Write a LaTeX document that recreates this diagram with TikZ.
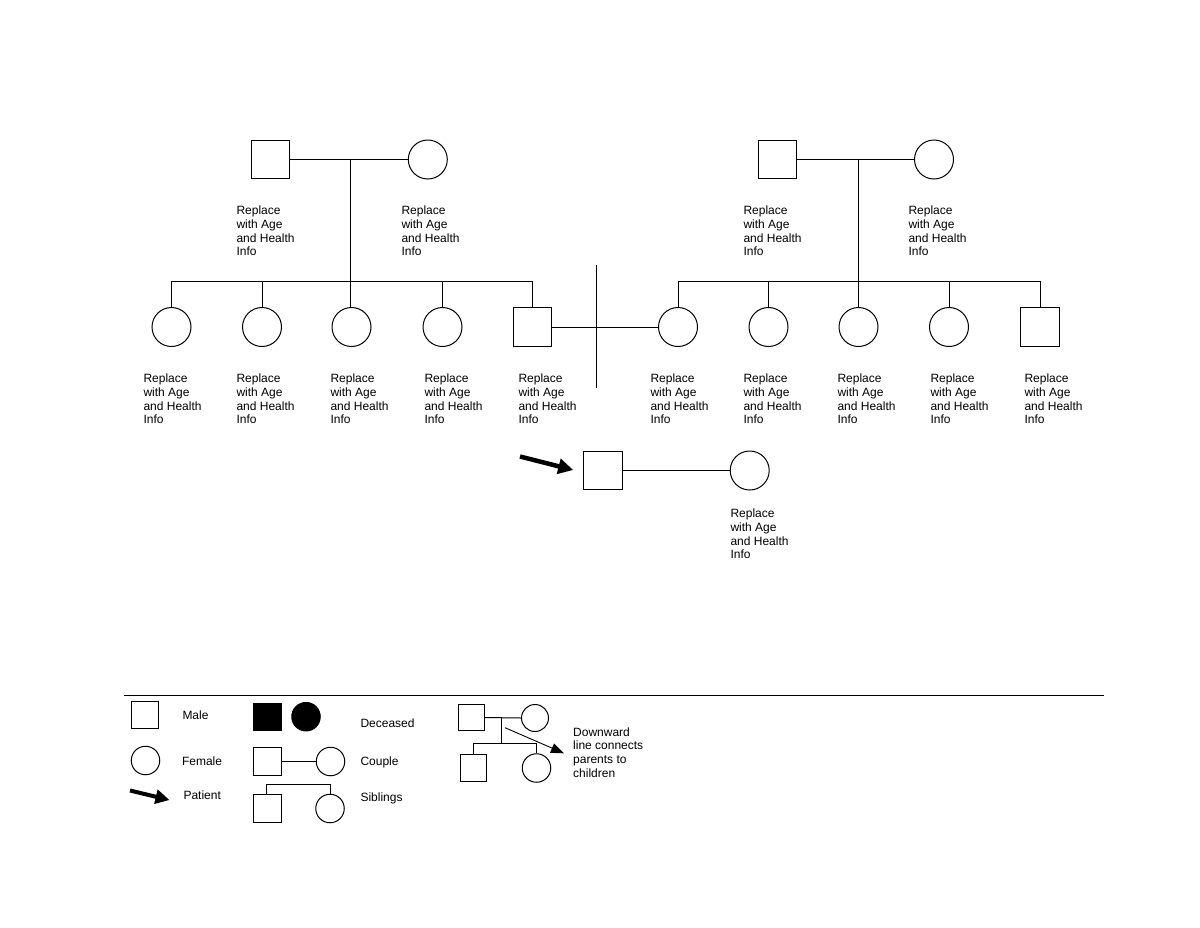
\documentclass[tikz,border=0pt]{standalone}
\usepackage{fontspec}
\setmainfont{Liberation Sans}
\usetikzlibrary{arrows.meta}
\begin{document}
\begin{tikzpicture}[x=1pt,y=-1pt,line width=1pt,
  male/.style={draw,rectangle,minimum size=38.5pt,inner sep=0pt},
  female/.style={draw,circle,minimum size=39pt,inner sep=0pt},
  lmale/.style={draw,rectangle,minimum size=27.5pt,inner sep=0pt},
  lfemale/.style={draw,circle,minimum size=28.5pt,inner sep=0pt},
  dead/.style={fill=black},
  info/.style={anchor=north west,inner sep=0pt,align=left,font=\fontsize{12}{13.7}\selectfont},
  ltext/.style={anchor=base west,inner sep=0pt,font=\fontsize{12}{13.7}\selectfont},
  patarrow/.style={line width=4.5pt,-{Triangle[length=15pt,width=15pt]}},
  thinarrow/.style={line width=0.9pt,-{Triangle[length=13pt,width=10pt]}}]
\useasboundingbox[fill=white] (0,0) rectangle (1200,927);

% ---- left grandparents
\node[male] (gf1) at (270.5,159.5) {};
\node[female] (gm1) at (427.8,159.5) {};
\draw (gf1.east) -- (gm1.west);
\coordinate (m1) at (350.8,159.5);
\coordinate (s1l) at (171.5,281);
\coordinate (s1r) at (532.5,281);
% left children
\node[female] (c1) at (171.5,327) {};
\node[female] (c2) at (262,327) {};
\node[female] (c3) at (351.5,327) {};
\node[female] (c4) at (442.5,327) {};
\node[male] (c5) at (532.5,327) {};
\draw (m1) -- (m1 |- c3.north);
\draw (c1.north) -- (s1l) -- (s1r) -- (c5.north);
\draw (c2.north) -- (c2.north |- s1l);
\draw (c4.north) -- (c4.north |- s1l);

% ---- right grandparents
\node[male] (gf2) at (777.5,159.5) {};
\node[female] (gm2) at (934,159.5) {};
\draw (gf2.east) -- (gm2.west);
\coordinate (m2) at (858,159.5);
\coordinate (s2l) at (678,281);
\coordinate (s2r) at (1040,281);
\node[female] (d1) at (678,327) {};
\node[female] (d2) at (768.5,327) {};
\node[female] (d3) at (858.5,327) {};
\node[female] (d4) at (949,327) {};
\node[male] (d5) at (1040,327) {};
\draw (m2) -- (m2 |- d3.north);
\draw (d1.north) -- (s2l) -- (s2r) -- (d5.north);
\draw (d2.north) -- (d2.north |- s2l);
\draw (d4.north) -- (d4.north |- s2l);

% parents couple line and vertical
\draw (c5.east) -- (d1.west);
\coordinate (vt) at (596.5,265);
\coordinate (vb) at (596.5,388);
\draw (vt) -- (vb);

% patient and spouse
\node[male] (p) at (603,470.5) {};
\node[female] (w) at (749.7,470.5) {};
\draw (p.east) -- (w.west);
\coordinate (ptail) at (520,456.5);
\draw[patarrow] (ptail) -- ([xshift=-10pt,yshift=0.5pt]p.west);

% info labels
\foreach \x/\y in {236/205.5,401/205.5,743/205.5,908/205.5,
  143/373.5,236/373.5,330/373.5,424/373.5,518/373.5,
  650/373.5,743/373.5,837/373.5,930/373.5,1024/373.5,730/508.5}
  \node[info] at (\x,\y) {Replace\\with Age\\and Health\\Info};

% ---- legend
\coordinate (ll) at (124,695.7);
\coordinate (lr) at (1104,695.7);
\draw (ll) -- (lr);
\node[lmale] (lm) at (145,715) {};
\node[ltext] (tm) at (182,719.5) {Male};
\node[lfemale] (lf) at (145.5,760.5) {};
\node[ltext] (tf) at (181.5,765) {Female};
\coordinate (lat) at (130,790.5);
\coordinate (lah) at (169.5,800);
\draw[line width=4pt,-{Triangle[length=14pt,width=14pt]}] (lat) -- (lah);
\node[ltext] (tp) at (183,799.5) {Patient};

\node[lmale,dead] (dm) at (267.5,717) {};
\node[lfemale,dead] (df) at (306,716.7) {};
\node[ltext] (td) at (360,727) {Deceased};

\node[lmale] (cm) at (267.5,761.5) {};
\node[lfemale] (cf) at (330.5,761.5) {};
\draw (cm.east) -- (cf.west);
\node[ltext] (tc) at (360,765.5) {Couple};

\node[lmale] (sm) at (267.5,808.5) {};
\node[lfemale] (sf) at (330,808.5) {};
\coordinate (sl) at (266,784.5);
\draw ([xshift=-1.5pt]sm.north) -- (sl) -- (sl -| sf.north) -- (sf.north);
\node[ltext] (ts) at (360,801.5) {Siblings};

\node[lmale,minimum size=26pt] (qm) at (471.5,717.5) {};
\node[lfemale,minimum size=27pt] (qf) at (535,718) {};
\draw (qm.east) -- (qf.west);
\coordinate (qd) at (501.7,718);
\coordinate (qs) at (501.7,743.3);
\draw (qd) -- (qs);
\node[lmale,minimum size=26.5pt] (qc1) at (473.7,768) {};
\node[lfemale] (qc2) at (536.5,768) {};
\draw (qc1.north) -- (qc1.north |- qs) -- (qc2.north |- qs) -- (qc2.north);
\coordinate (qa) at (505,727.7);
\coordinate (qb) at (564,753.3);
\draw[thinarrow] (qa) -- (qb);
\node[info] (tq) at (572.7,727) {Downward\\line connects\\parents to\\children};
\end{tikzpicture}
\end{document}
